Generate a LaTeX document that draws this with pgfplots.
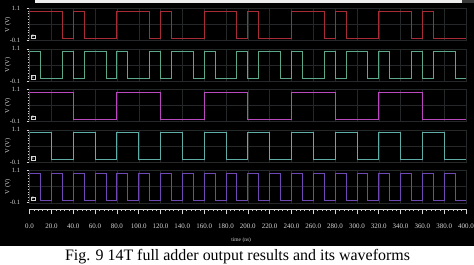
\documentclass[border=0pt]{standalone}
\usepackage{pgfplots}
\pgfplotsset{compat=1.18}
\usepackage{fontspec}
\setmainfont{Liberation Serif}
\definecolor{wred}{RGB}{168,44,54}
\definecolor{wgreen}{RGB}{92,168,136}
\definecolor{wmag}{RGB}{186,72,190}
\definecolor{wcyan}{RGB}{96,172,166}
\definecolor{wpur}{RGB}{112,72,180}
\definecolor{gridc}{RGB}{36,40,40}
\definecolor{labc}{RGB}{215,215,215}
\pgfplotsset{
 panel/.style={
  width=436.4bp, height=32.4bp, scale only axis, anchor=south west,
  xmin=0, xmax=400, ymin=-0.1, ymax=1.1,
  axis line style={draw=gridc, line width=0.4bp},
  xtick={0,20,...,400}, xticklabels={}, xmajorgrids,
  major x tick style={draw=none},
  ytick={-0.1,1.1}, yticklabels={-0.1,1.1}, ytick pos=left,
  minor ytick={0,0.1,0.2,0.3,0.4,0.5,0.6,0.7,0.8,0.9,1.0},
  y tick style={labc, line width=0.5bp},
  tick align=outside, major tick length=3bp, minor tick length=2bp,
  yticklabel style={font=\fontsize{6.5}{6.5}\selectfont, text=labc, xshift=-3bp},
  ylabel={V (V)},
  ylabel style={font=\fontsize{6.5}{6.5}\selectfont, text=labc, at={(axis description cs:-0.05,0.5)}, anchor=center},
  extra y ticks={0.5}, extra y tick labels={}, extra y tick style={grid=major, major tick length=0pt},
  grid style={gridc, line width=0.4bp},
 },
 wave/.style={line width=0.8bp, const plot, mark=none},
}
\newcommand{\ebox}{\node[draw=labc, line width=0.4bp, inner sep=0.6bp, font=\fontsize{4}{4}\selectfont, text=labc, anchor=south west] at (rel axis cs:0.003,0.06) {E};}
\begin{document}
\begin{tikzpicture}
\useasboundingbox (0bp,0bp) rectangle (474bp,265bp);
\fill[white] (0bp,0bp) rectangle (474bp,265bp);
\fill[black] (0bp,19bp) rectangle (474bp,265bp);
\fill[gray!15] (35bp,262bp) rectangle (462bp,265bp);
\fill[gray!45!black] (462bp,262bp) rectangle (474bp,265bp);

% Carry
\begin{axis}[panel, at={(29.6bp,224.3bp)}]
\addplot[wave, wred] coordinates {(0,0)(0,1)(30,0)(40,1)(50,0)(80,1)(110,0)(120,1)(130,0)(160,1)(190,0)(200,1)(210,0)(240,1)(270,0)(280,1)(290,0)(320,1)(350,0)(360,1)(370,0)(400,0)};
\ebox
\end{axis}
% Sum
\begin{axis}[panel, at={(29.6bp,183.8bp)}]
\addplot[wave, wgreen] coordinates {(0,0)(0,1)(10,0)(30,1)(40,0)(50,1)(70,0)(80,1)(90,0)(110,1)(120,0)(130,1)(150,0)(160,1)(170,0)(190,1)(200,0)(210,1)(230,0)(240,1)(250,0)(270,1)(280,0)(290,1)(310,0)(320,1)(330,0)(350,1)(360,0)(370,1)(390,0)(400,0)};
\ebox
\end{axis}
% A
\begin{axis}[panel, at={(29.6bp,143.3bp)}]
\addplot[wave, wmag] coordinates {(0,0)(0,1)(40,0)(80,1)(120,0)(160,1)(200,0)(240,1)(280,0)(320,1)(360,0)(400,0)};
\ebox
\end{axis}
% B
\begin{axis}[panel, at={(29.6bp,102.8bp)}]
\addplot[wave, wcyan] coordinates {(0,0)(0,1)(20,0)(40,1)(60,0)(80,1)(100,0)(120,1)(140,0)(160,1)(180,0)(200,1)(220,0)(240,1)(260,0)(280,1)(300,0)(320,1)(340,0)(360,1)(380,0)(400,0)};
\ebox
\end{axis}
% C
\begin{axis}[panel, at={(29.6bp,62.3bp)}]
\addplot[wave, wpur] coordinates {(0,0)(0,1)(10,0)(20,1)(30,0)(40,1)(50,0)(60,1)(70,0)(80,1)(90,0)(100,1)(110,0)(120,1)(130,0)(140,1)(150,0)(160,1)(170,0)(180,1)(190,0)(200,1)(210,0)(220,1)(230,0)(240,1)(250,0)(260,1)(270,0)(280,1)(290,0)(300,1)(310,0)(320,1)(330,0)(340,1)(350,0)(360,1)(370,0)(380,1)(390,0)(400,0)};
\ebox
\end{axis}
% time ruler
\begin{axis}[at={(29.6bp,56bp)}, anchor=south west, width=436.4bp, height=4bp, scale only axis,
  xmin=0, xmax=400, ymin=0, ymax=1,
  axis x line=bottom, axis y line=none,
  axis line style={labc, -, line width=0.5bp},
  xtick={0,20,...,400},
  xticklabels={0.0,20.0,40.0,60.0,80.0,100.0,120.0,140.0,160.0,180.0,200.0,220.0,240.0,260.0,280.0,300.0,320.0,340.0,360.0,380.0,400.0},
  minor x tick num=4,
  tick align=outside, major tick length=5.5bp, minor tick length=2.5bp,
  x tick style={labc, line width=0.5bp},
  xticklabel style={font=\fontsize{7}{7}\selectfont, text=labc, yshift=-6bp},
  xlabel={time (ns)},
  xlabel style={font=\fontsize{5.5}{5.5}\selectfont, text=labc, at={(axis description cs:0.485,0)}, anchor=center, yshift=-31bp},
]
\addplot[draw=none] coordinates {(0,0)(400,0)};
\end{axis}

\node[font=\fontsize{16}{16}\selectfont, anchor=base, text=black] at (237.5bp,5bp) {Fig. 9 14T full adder output results and its waveforms};
\end{tikzpicture}
\end{document}
